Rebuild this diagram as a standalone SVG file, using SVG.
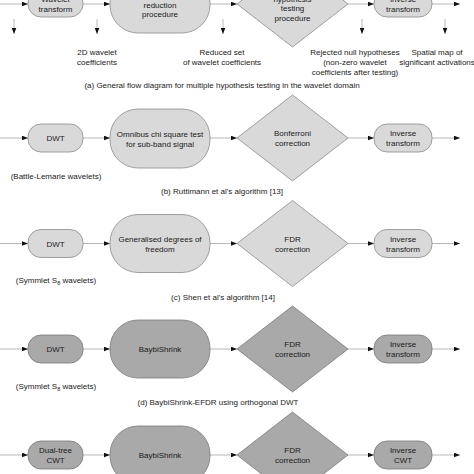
<svg xmlns="http://www.w3.org/2000/svg" width="474" height="474" viewBox="0 0 474 474">
<defs>
<style>
.l{fill:#d9d9d9;stroke:#8c8c8c;stroke-width:0.8}
.d{fill:#a9a9a9;stroke:#7a7a7a;stroke-width:0.8}
text{font-family:"Liberation Sans",Arial,sans-serif;font-size:8px;fill:#1a1a1a;text-anchor:middle}
.c{fill:none;stroke:#b0b0b0;stroke-width:0.9}
</style>
<marker id="ah" markerUnits="userSpaceOnUse" markerWidth="6.5" markerHeight="5" refX="6.5" refY="2.5" orient="auto">
<path d="M0,0 L6.5,2.5 L0,5 z" fill="#111"/>
</marker>
</defs>
<rect width="474" height="474" fill="#fff"/>

<g id="connectors">
<path class="c" marker-end="url(#ah)" d="M0,4 H28"/>
<path class="c" marker-end="url(#ah)" d="M83,4 H110"/>
<path class="c" marker-end="url(#ah)" d="M210,4 H237"/>
<path class="c" marker-end="url(#ah)" d="M348,4 H374"/>
<path class="c" marker-end="url(#ah)" d="M432,4 H460"/>
<path class="c" marker-end="url(#ah)" d="M14,19 V34"/>
<path class="c" marker-end="url(#ah)" d="M97,19 V34"/>
<path class="c" marker-end="url(#ah)" d="M223,19 V34"/>
<path class="c" marker-end="url(#ah)" d="M362,19 V34"/>
<path class="c" marker-end="url(#ah)" d="M445,19 V34"/>

<path class="c" marker-end="url(#ah)" d="M0,138 H28"/>
<path class="c" marker-end="url(#ah)" d="M83,138 H110"/>
<path class="c" marker-end="url(#ah)" d="M210,138 H237"/>
<path class="c" marker-end="url(#ah)" d="M348,138 H374"/>
<path class="c" marker-end="url(#ah)" d="M432,138 H460"/>

<path class="c" marker-end="url(#ah)" d="M0,243.5 H28"/>
<path class="c" marker-end="url(#ah)" d="M83,243.5 H110"/>
<path class="c" marker-end="url(#ah)" d="M210,243.5 H237"/>
<path class="c" marker-end="url(#ah)" d="M348,243.5 H374"/>
<path class="c" marker-end="url(#ah)" d="M432,243.5 H460"/>

<path class="c" marker-end="url(#ah)" d="M0,349 H28"/>
<path class="c" marker-end="url(#ah)" d="M83,349 H110"/>
<path class="c" marker-end="url(#ah)" d="M210,349 H237"/>
<path class="c" marker-end="url(#ah)" d="M348,349 H374"/>
<path class="c" marker-end="url(#ah)" d="M432,349 H460"/>

<path class="c" marker-end="url(#ah)" d="M0,455 H28"/>
<path class="c" marker-end="url(#ah)" d="M83,455 H110"/>
<path class="c" marker-end="url(#ah)" d="M210,455 H237"/>
<path class="c" marker-end="url(#ah)" d="M348,455 H374"/>
<path class="c" marker-end="url(#ah)" d="M432,455 H460"/>
</g>

<!-- Row a -->
<g id="a-wavelet">
<rect class="l" x="28" y="-10" width="55" height="27" rx="13"/>
<text x="55.5" y="2">Wavelet</text>
<text x="55.5" y="12">transform</text>
</g>
<g id="a-reduction">
<rect class="l" x="110" y="-25" width="100" height="58" rx="28"/>
<text x="160" y="7.5">reduction</text>
<text x="160" y="17">procedure</text>
</g>
<g id="a-testing">
<polygon class="l" points="237,4 292.5,-39 348,4 292.5,47"/>
<text x="292.5" y="1.5">hypothesis</text>
<text x="292.5" y="10.5">testing</text>
<text x="292.5" y="20.5">procedure</text>
</g>
<g id="a-inverse">
<rect class="l" x="374" y="-10" width="58" height="27" rx="13"/>
<text x="403" y="2">Inverse</text>
<text x="403" y="12">transform</text>
</g>
<g id="a-labels">
<text x="97" y="55">2D wavelet</text>
<text x="97" y="65">coefficients</text>
<text x="222" y="55">Reduced set</text>
<text x="222" y="65">of wavelet coefficients</text>
<text x="355" y="55">Rejected null hypotheses</text>
<text x="355" y="65">(non-zero wavelet</text>
<text x="355" y="74.5">coefficients after testing)</text>
<text x="437" y="55">Spatial map of</text>
<text x="437" y="65">significant activations</text>
<text x="222" y="88">(a) General flow diagram for multiple hypothesis testing in the wavelet domain</text>
</g>

<!-- Row b -->
<g id="b-dwt">
<rect class="l" x="28" y="124" width="55" height="28" rx="13"/>
<text x="55.5" y="141">DWT</text>
<text x="56" y="179">(Battle-Lemarie wavelets)</text>
</g>
<g id="b-omnibus">
<rect class="l" x="110" y="109" width="100" height="59" rx="28"/>
<text x="160" y="136.5">Omnibus chi square test</text>
<text x="160" y="146.5">for sub-band signal</text>
</g>
<g id="b-bonferroni">
<polygon class="l" points="237,138 292.5,95 348,138 292.5,181"/>
<text x="292.5" y="136">Bonferroni</text>
<text x="292.5" y="146">correction</text>
</g>
<g id="b-inverse">
<rect class="l" x="374" y="124" width="58" height="28" rx="13"/>
<text x="403" y="136">Inverse</text>
<text x="403" y="146">transform</text>
</g>
<text x="222" y="194">(b) Ruttimann et al's algorithm [13]</text>

<!-- Row c -->
<g id="c-dwt">
<rect class="l" x="28" y="229.5" width="55" height="28" rx="13"/>
<text x="55.5" y="246.5">DWT</text>
<text x="56" y="283">(Symmlet S<tspan font-size="5.5" dy="1.5">8</tspan><tspan dy="-1.5"> wavelets)</tspan></text>
</g>
<g id="c-gdf">
<rect class="l" x="110" y="214.5" width="100" height="58" rx="28"/>
<text x="160" y="241.5">Generalised degrees of</text>
<text x="160" y="251.5">freedom</text>
</g>
<g id="c-fdr">
<polygon class="l" points="237,243.5 292.5,200.5 348,243.5 292.5,286.5"/>
<text x="292.5" y="241.5">FDR</text>
<text x="292.5" y="251.5">correction</text>
</g>
<g id="c-inverse">
<rect class="l" x="374" y="229.5" width="58" height="28" rx="13"/>
<text x="403" y="241.5">Inverse</text>
<text x="403" y="251.5">transform</text>
</g>
<text x="223" y="300">(c) Shen et al's algorithm [14]</text>

<!-- Row d -->
<g id="d-dwt">
<rect class="d" x="28" y="335" width="55" height="28" rx="13"/>
<text x="55.5" y="352">DWT</text>
<text x="56" y="389">(Symmlet S<tspan font-size="5.5" dy="1.5">8</tspan><tspan dy="-1.5"> wavelets)</tspan></text>
</g>
<g id="d-baybishrink">
<rect class="d" x="110" y="320" width="100" height="58" rx="28"/>
<text x="160" y="352">BaybiShrink</text>
</g>
<g id="d-fdr">
<polygon class="d" points="237,349 292.5,306 348,349 292.5,392"/>
<text x="292.5" y="347">FDR</text>
<text x="292.5" y="357">correction</text>
</g>
<g id="d-inverse">
<rect class="d" x="374" y="335" width="58" height="28" rx="13"/>
<text x="403" y="347">Inverse</text>
<text x="403" y="357">transform</text>
</g>
<text x="218" y="405">(d) BaybiShrink-EFDR using orthogonal DWT</text>

<!-- Row e -->
<g id="e-cwt">
<rect class="d" x="28" y="441" width="55" height="28" rx="13"/>
<text x="55.5" y="453">Dual-tree</text>
<text x="55.5" y="463">CWT</text>
</g>
<g id="e-baybishrink">
<rect class="d" x="110" y="426" width="100" height="58" rx="28"/>
<text x="160" y="458">BaybiShrink</text>
</g>
<g id="e-fdr">
<polygon class="d" points="237,455 292.5,412 348,455 292.5,498"/>
<text x="292.5" y="453">FDR</text>
<text x="292.5" y="463">correction</text>
</g>
<g id="e-inverse">
<rect class="d" x="374" y="441" width="58" height="28" rx="13"/>
<text x="403" y="453">Inverse</text>
<text x="403" y="463">CWT</text>
</g>
</svg>
